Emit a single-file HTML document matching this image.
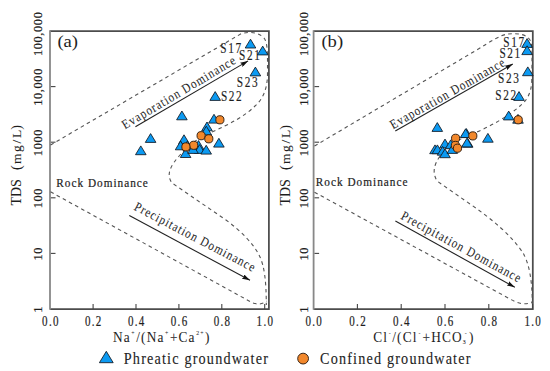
<!DOCTYPE html><html><head><meta charset="utf-8"><style>
html,body{margin:0;padding:0;background:#fff;width:550px;height:371px;overflow:hidden}
svg{display:block}
text{font-family:"Liberation Serif",serif;fill:#1e1e1e;stroke:#1e1e1e;stroke-width:0.06}
.t{fill:#0C9AF2;stroke:#131820;stroke-width:0.85;stroke-linejoin:miter}
.c{fill:#F2882C;stroke:#2e1c10;stroke-width:0.95}
.d{fill:none;stroke:#555;stroke-width:1.1;stroke-dasharray:3.6 3.4}
.fr{fill:none;stroke:#4c4c4c;stroke-width:1.75}
.ax{stroke:#888;stroke-width:1.8}
.tk{stroke:#444;stroke-width:1.1}
.ar{stroke:#222;stroke-width:1.1}
</style></head><body>
<svg width="550" height="371" viewBox="0 0 550 371">
<defs><marker id="ah" viewBox="0 0 8 5" refX="8" refY="2.5" markerWidth="8" markerHeight="5" markerUnits="userSpaceOnUse" orient="auto"><path d="M0,0 L8,2.5 L0,5 L1.2,2.5 Z" fill="#111"/></marker></defs>

<path class="fr" d="M50,31 L268.9,31 L268.9,309 L50,309"/>
<line class="ax" x1="50" y1="30.3" x2="50" y2="309.7"/>
<line class="tk" x1="50.9" y1="253.4" x2="55.5" y2="253.4"/>
<line class="tk" x1="50.9" y1="197.8" x2="55.5" y2="197.8"/>
<line class="tk" x1="50.9" y1="142.2" x2="55.5" y2="142.2"/>
<line class="tk" x1="50.9" y1="86.6" x2="55.5" y2="86.6"/>
<line class="tk" x1="93.1" y1="309" x2="93.1" y2="304"/>
<line class="tk" x1="136.0" y1="309" x2="136.0" y2="304"/>
<line class="tk" x1="178.9" y1="309" x2="178.9" y2="304"/>
<line class="tk" x1="221.8" y1="309" x2="221.8" y2="304"/>
<line class="tk" x1="264.7" y1="309" x2="264.7" y2="304"/>
<text transform="translate(50.90,326.30) scale(0.800,1)" font-size="13.8" letter-spacing="1.6" text-anchor="middle" style="stroke-width:0.2">0.0</text>
<text transform="translate(93.80,326.30) scale(0.800,1)" font-size="13.8" letter-spacing="1.6" text-anchor="middle" style="stroke-width:0.2">0.2</text>
<text transform="translate(136.70,326.30) scale(0.800,1)" font-size="13.8" letter-spacing="1.6" text-anchor="middle" style="stroke-width:0.2">0.4</text>
<text transform="translate(179.60,326.30) scale(0.800,1)" font-size="13.8" letter-spacing="1.6" text-anchor="middle" style="stroke-width:0.2">0.6</text>
<text transform="translate(222.50,326.30) scale(0.800,1)" font-size="13.8" letter-spacing="1.6" text-anchor="middle" style="stroke-width:0.2">0.8</text>
<text transform="translate(265.40,326.30) scale(0.800,1)" font-size="13.8" letter-spacing="1.6" text-anchor="middle" style="stroke-width:0.2">1.0</text>
<text transform="translate(41.70,309.30) rotate(-90) scale(1.050,1)" font-size="11.8" letter-spacing="0.6" text-anchor="middle" style="stroke-width:0.2">1</text>
<text transform="translate(41.70,253.70) rotate(-90) scale(1.050,1)" font-size="11.8" letter-spacing="0.6" text-anchor="middle" style="stroke-width:0.2">10</text>
<text transform="translate(41.70,198.10) rotate(-90) scale(1.050,1)" font-size="11.8" letter-spacing="0.6" text-anchor="middle" style="stroke-width:0.2">100</text>
<text transform="translate(41.70,142.50) rotate(-90) scale(1.050,1)" font-size="11.8" letter-spacing="0.6" text-anchor="middle" style="stroke-width:0.2">1000</text>
<text transform="translate(41.70,86.90) rotate(-90) scale(1.050,1)" font-size="11.8" letter-spacing="0.6" text-anchor="middle" style="stroke-width:0.2">10,000</text>
<text transform="translate(41.70,33.80) rotate(-90) scale(1.050,1)" font-size="11.8" letter-spacing="0.6" text-anchor="middle" style="stroke-width:0.2">100,000</text>
<text transform="translate(113,342.3) scale(0.9,1)" font-size="14.8" letter-spacing="1.3">Na<tspan dy="-7.5" dx="0.5" font-size="6.5">+</tspan><tspan dy="7.5" dx="0.5">/(Na</tspan><tspan dy="-7.5" dx="0.5" font-size="6.5">+</tspan><tspan dy="7.5" dx="0.5">+Ca</tspan><tspan dy="-7.5" dx="0.5" font-size="6.5" letter-spacing="1.2">2+</tspan><tspan dy="7.5" dx="0.5">)</tspan></text>
<g transform="translate(21,205.6) rotate(-90)"><text x="0" y="0" font-size="14">TDS</text><text x="35.6" y="0" font-size="14">(</text><text x="41.5" y="0" font-size="13.5" letter-spacing="1.7">mg/L</text><text x="75.8" y="0" font-size="14">)</text></g>
<text transform="translate(57.40,47.45) scale(1.070,1)" font-size="17.4" style="stroke-width:0">(a)</text>
<path class="d" d="M50.5,145 L241,33.8 C248,31.5 258,31.5 264,38 C268,43 267.5,55 267.5,74 C267.5,90 262,100 255,106 C245,116 230,124 212,132 C198,138 188,146 180,155 C170,166 166,175 172,183 L226,220 C242,232 254,244 260,257 C264.5,267 266.3,282 266.3,305"/>
<path class="d" d="M50.5,191.8 L252,302.6 C257,304.5 262,305 266.5,301"/>
<text transform="translate(56.25,186.60) scale(0.880,1)" font-size="12.8" letter-spacing="1.15" style="stroke-width:0.22">Rock Dominance</text>
<text transform="translate(125.10,129.50) rotate(-30.8) scale(0.850,1)" font-size="13.2" letter-spacing="1.2" style="stroke-width:0.05">Evaporation Dominance</text>
<line class="ar" x1="135.4" y1="126.8" x2="248.1" y2="60.9" marker-end="url(#ah)"/>
<text transform="translate(133.30,209.50) rotate(27.6) scale(0.850,1)" font-size="13.2" letter-spacing="1.2" style="stroke-width:0.05">Precipitation Dominance</text>
<line class="ar" x1="129.3" y1="215.5" x2="250" y2="280.3" marker-end="url(#ah)"/>
<text transform="translate(220.25,53.15) scale(0.820,1)" font-size="13.8" letter-spacing="2.0" style="stroke-width:0.15">S17</text>
<text transform="translate(238.95,59.75) scale(0.820,1)" font-size="13.8" letter-spacing="2.0" style="stroke-width:0.15">S21</text>
<text transform="translate(236.70,86.50) scale(0.820,1)" font-size="13.8" letter-spacing="2.0" style="stroke-width:0.15">S23</text>
<text transform="translate(220.90,100.70) scale(0.820,1)" font-size="13.8" letter-spacing="2.0" style="stroke-width:0.15">S22</text>
<path d="M150.6,133.6 L155.9,142.4 L145.3,142.4 Z" class="t"/>
<path d="M140.8,145.9 L146.1,154.7 L135.5,154.7 Z" class="t"/>
<path d="M181.9,111.0 L187.2,119.8 L176.6,119.8 Z" class="t"/>
<path d="M214.0,114.3 L219.3,123.1 L208.7,123.1 Z" class="t"/>
<path d="M207.0,122.0 L212.3,130.8 L201.7,130.8 Z" class="t"/>
<path d="M206.3,126.2 L211.6,135.0 L201.0,135.0 Z" class="t"/>
<path d="M184.0,134.8 L189.3,143.6 L178.7,143.6 Z" class="t"/>
<path d="M180.6,141.0 L185.9,149.8 L175.3,149.8 Z" class="t"/>
<path d="M187.4,141.0 L192.7,149.8 L182.1,149.8 Z" class="t"/>
<path d="M185.6,148.7 L190.9,157.5 L180.3,157.5 Z" class="t"/>
<path d="M198.5,140.6 L203.8,149.4 L193.2,149.4 Z" class="t"/>
<path d="M199.6,144.6 L204.9,153.4 L194.3,153.4 Z" class="t"/>
<path d="M206.2,145.3 L211.5,154.1 L200.9,154.1 Z" class="t"/>
<path d="M218.9,138.3 L224.2,147.1 L213.6,147.1 Z" class="t"/>
<path d="M193.0,144.6 L198.3,153.4 L187.7,153.4 Z" class="t"/>
<path d="M250.5,39.2 L255.8,48.0 L245.2,48.0 Z" class="t"/>
<path d="M262.7,46.1 L268.0,54.9 L257.4,54.9 Z" class="t"/>
<path d="M255.4,67.1 L260.7,75.9 L250.1,75.9 Z" class="t"/>
<path d="M215.2,91.6 L220.5,100.4 L209.9,100.4 Z" class="t"/>
<circle cx="219.9" cy="119.8" r="4.1" class="c"/>
<circle cx="201.1" cy="135.7" r="4.1" class="c"/>
<circle cx="208.8" cy="138.8" r="4.1" class="c"/>
<circle cx="193.7" cy="145.3" r="4.1" class="c"/>
<circle cx="185.9" cy="146.9" r="4.1" class="c"/>
<path class="fr" d="M313.6,31 L532.8,31 L532.8,309 L313.6,309"/>
<line class="ax" x1="313.6" y1="30.3" x2="313.6" y2="309.7"/>
<line class="tk" x1="314.5" y1="253.4" x2="319.1" y2="253.4"/>
<line class="tk" x1="314.5" y1="197.8" x2="319.1" y2="197.8"/>
<line class="tk" x1="314.5" y1="142.2" x2="319.1" y2="142.2"/>
<line class="tk" x1="314.5" y1="86.6" x2="319.1" y2="86.6"/>
<line class="tk" x1="357.4" y1="309" x2="357.4" y2="304"/>
<line class="tk" x1="401.2" y1="309" x2="401.2" y2="304"/>
<line class="tk" x1="445.0" y1="309" x2="445.0" y2="304"/>
<line class="tk" x1="488.8" y1="309" x2="488.8" y2="304"/>
<line class="tk" x1="532.6" y1="309" x2="532.6" y2="304"/>
<text transform="translate(314.30,326.30) scale(0.800,1)" font-size="13.8" letter-spacing="1.6" text-anchor="middle" style="stroke-width:0.2">0.0</text>
<text transform="translate(358.10,326.30) scale(0.800,1)" font-size="13.8" letter-spacing="1.6" text-anchor="middle" style="stroke-width:0.2">0.2</text>
<text transform="translate(401.90,326.30) scale(0.800,1)" font-size="13.8" letter-spacing="1.6" text-anchor="middle" style="stroke-width:0.2">0.4</text>
<text transform="translate(445.70,326.30) scale(0.800,1)" font-size="13.8" letter-spacing="1.6" text-anchor="middle" style="stroke-width:0.2">0.6</text>
<text transform="translate(489.50,326.30) scale(0.800,1)" font-size="13.8" letter-spacing="1.6" text-anchor="middle" style="stroke-width:0.2">0.8</text>
<text transform="translate(533.30,326.30) scale(0.800,1)" font-size="13.8" letter-spacing="1.6" text-anchor="middle" style="stroke-width:0.2">1.0</text>
<text transform="translate(308.30,309.30) rotate(-90) scale(1.050,1)" font-size="11.8" letter-spacing="0.6" text-anchor="middle" style="stroke-width:0.2">1</text>
<text transform="translate(308.30,253.70) rotate(-90) scale(1.050,1)" font-size="11.8" letter-spacing="0.6" text-anchor="middle" style="stroke-width:0.2">10</text>
<text transform="translate(308.30,198.10) rotate(-90) scale(1.050,1)" font-size="11.8" letter-spacing="0.6" text-anchor="middle" style="stroke-width:0.2">100</text>
<text transform="translate(308.30,142.50) rotate(-90) scale(1.050,1)" font-size="11.8" letter-spacing="0.6" text-anchor="middle" style="stroke-width:0.2">1000</text>
<text transform="translate(308.30,86.90) rotate(-90) scale(1.050,1)" font-size="11.8" letter-spacing="0.6" text-anchor="middle" style="stroke-width:0.2">10,000</text>
<text transform="translate(308.30,33.80) rotate(-90) scale(1.050,1)" font-size="11.8" letter-spacing="0.6" text-anchor="middle" style="stroke-width:0.2">100,000</text>
<text transform="translate(373.3,342.3) scale(0.9,1)" font-size="14.8" letter-spacing="1.3">Cl<tspan dy="-7.5" dx="0.5" font-size="6.5">-</tspan><tspan dy="7.5" dx="0.5">/(Cl</tspan><tspan dy="-7.5" dx="1" font-size="6.5">-</tspan><tspan dy="7.5" dx="1">+HCO</tspan><tspan dy="2" dx="0" font-size="6.5">3</tspan><tspan dy="-9" dx="-2.5" font-size="6.5">-</tspan><tspan dy="7" dx="1.5">)</tspan></text>
<g transform="translate(289.8,205.6) rotate(-90)"><text x="0" y="0" font-size="14">TDS</text><text x="35.6" y="0" font-size="14">(</text><text x="41.5" y="0" font-size="13.5" letter-spacing="1.7">mg/L</text><text x="75.8" y="0" font-size="14">)</text></g>
<text transform="translate(321.40,47.45) scale(1.070,1)" font-size="17.4" style="stroke-width:0">(b)</text>
<path class="d" d="M314.5,146 L476.7,50 C490,42 500,35 508,34 C518,33 528,34 531,42 C532.5,48 532,60 531.8,80 C531.5,95 525,102 520,106 C510,115 490,127 472,134 C455,141 445,148 440,156 C434,165 432,172 437,181 L470,204 C492,219 512,236 523,253 C529,263 532.3,280 532.3,304"/>
<path class="d" d="M314.5,192.2 L510,299 C518,303.5 525,305.5 532,302"/>
<text transform="translate(315.85,186.45) scale(0.880,1)" font-size="12.8" letter-spacing="1.15" style="stroke-width:0.22">Rock Dominance</text>
<text transform="translate(393.00,129.50) rotate(-29.6) scale(0.850,1)" font-size="13.2" letter-spacing="1.2" style="stroke-width:0.05">Evaporation Dominance</text>
<line class="ar" x1="395.3" y1="130.9" x2="512.8" y2="64" marker-end="url(#ah)"/>
<text transform="translate(400.00,218.50) rotate(28.5) scale(0.850,1)" font-size="13.2" letter-spacing="1.2" style="stroke-width:0.05">Precipitation Dominance</text>
<line class="ar" x1="395.4" y1="221.1" x2="514.8" y2="287.2" marker-end="url(#ah)"/>
<text transform="translate(503.20,46.70) scale(0.820,1)" font-size="13.8" letter-spacing="2.0" style="stroke-width:0.15">S17</text>
<text transform="translate(499.40,57.75) scale(0.820,1)" font-size="13.8" letter-spacing="2.0" style="stroke-width:0.15">S21</text>
<text transform="translate(498.05,83.35) scale(0.820,1)" font-size="13.8" letter-spacing="2.0" style="stroke-width:0.15">S23</text>
<text transform="translate(495.20,100.30) scale(0.820,1)" font-size="13.8" letter-spacing="2.0" style="stroke-width:0.15">S22</text>
<path d="M437.3,122.6 L442.6,131.4 L432.0,131.4 Z" class="t"/>
<path d="M435.0,144.9 L440.3,153.7 L429.7,153.7 Z" class="t"/>
<path d="M437.4,144.9 L442.7,153.7 L432.1,153.7 Z" class="t"/>
<path d="M445.0,139.1 L450.3,147.9 L439.7,147.9 Z" class="t"/>
<path d="M450.7,139.9 L456.0,148.7 L445.4,148.7 Z" class="t"/>
<path d="M442.6,146.4 L447.9,155.2 L437.3,155.2 Z" class="t"/>
<path d="M445.0,148.9 L450.3,157.7 L439.7,157.7 Z" class="t"/>
<path d="M452.3,144.6 L457.6,153.4 L447.0,153.4 Z" class="t"/>
<path d="M518.0,114.4 L523.3,123.2 L512.7,123.2 Z" class="t"/>
<path d="M466.4,128.6 L471.7,137.4 L461.1,137.4 Z" class="t"/>
<path d="M467.7,138.4 L473.0,147.2 L462.4,147.2 Z" class="t"/>
<path d="M465.6,128.8 L470.9,137.6 L460.3,137.6 Z" class="t"/>
<path d="M467.0,138.1 L472.3,146.9 L461.7,146.9 Z" class="t"/>
<path d="M487.9,133.4 L493.2,142.2 L482.6,142.2 Z" class="t"/>
<path d="M508.7,111.1 L514.0,119.9 L503.4,119.9 Z" class="t"/>
<path d="M527.1,38.6 L532.4,47.4 L521.8,47.4 Z" class="t"/>
<path d="M527.1,45.8 L532.4,54.6 L521.8,54.6 Z" class="t"/>
<path d="M527.8,66.9 L533.1,75.7 L522.5,75.7 Z" class="t"/>
<path d="M519.0,91.6 L524.3,100.4 L513.7,100.4 Z" class="t"/>
<circle cx="472.8" cy="135.9" r="4.1" class="c"/>
<circle cx="455.6" cy="138.3" r="4.1" class="c"/>
<circle cx="455.4" cy="145.4" r="4.1" class="c"/>
<circle cx="457.5" cy="148.2" r="4.1" class="c"/>
<circle cx="518.2" cy="119.8" r="4.1" class="c"/>
<path d="M106.3,351.3 L113.2,362.7 L99.4,362.7 Z" class="t"/>
<text transform="translate(123.80,363.60) scale(0.900,1)" font-size="15.8" letter-spacing="1.3" style="stroke-width:0.12">Phreatic groundwater</text>
<circle cx="303.1" cy="358.6" r="5.4" class="c"/>
<text transform="translate(320.00,363.60) scale(0.900,1)" font-size="15.8" letter-spacing="1.3" style="stroke-width:0.12">Confined groundwater</text>
</svg></body></html>
